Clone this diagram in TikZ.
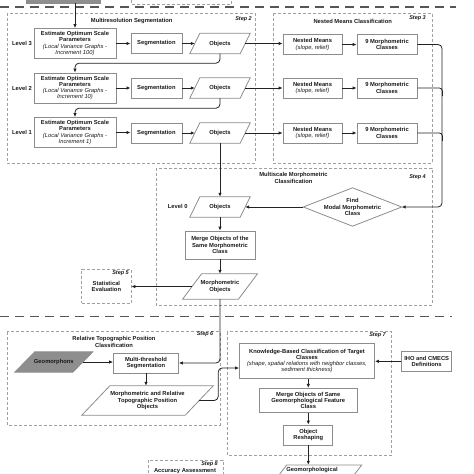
\documentclass[tikz,border=0pt]{standalone}
\usepackage{fontspec}
\setmainfont{Liberation Sans}
\usetikzlibrary{arrows.meta}
\pgfdeclarelayer{bg}
\pgfsetlayers{bg,main}
\definecolor{boxgray}{HTML}{8C8C8C}
\definecolor{dashgray}{HTML}{A0A0A0}
\definecolor{sepgray}{HTML}{555555}
\definecolor{arrowc}{HTML}{222222}
\definecolor{fillgray}{HTML}{8E8E8E}
\definecolor{txt}{HTML}{1A1A1A}
\newcommand\itx[1]{{\mdseries\itshape #1}}
\newcommand\paradraw[2]{\draw[box] ([xshift=#2pt]#1.north west) -- ([xshift=#2pt]#1.north east) -- ([xshift=-#2pt]#1.south east) -- ([xshift=-#2pt]#1.south west) -- cycle;}
\begin{document}
\begin{tikzpicture}[x=1pt,y=-1pt,
  every node/.style={font=\fontsize{5.8}{6.3}\selectfont\bfseries, text=txt, align=center, inner sep=0pt},
  box/.style={draw=boxgray, line width=.8pt},
  area/.style={draw=dashgray, line width=.7pt, dash pattern=on 3pt off 2pt},
  sepline/.style={draw=sepgray, line width=1.3pt, dash pattern=on 8.5pt off 6.5pt},
  conn/.style={draw=arrowc, line width=.8pt, -{Latex[length=4pt,width=3.5pt]}},
  plain/.style={draw=arrowc, line width=.8pt},
  steplbl/.style={font=\fontsize{5.5}{6}\selectfont\bfseries\itshape, anchor=east},
  estbox/.style={box, minimum width=82pt, minimum height=30pt},
  segbox/.style={box, minimum width=51pt, minimum height=20pt},
  nmbox/.style={box, minimum width=59pt, minimum height=20pt},
  cmbox/.style={box, minimum width=60pt, minimum height=20pt},
  objpara/.style={minimum width=50pt, minimum height=20pt},
]
\useasboundingbox (0,0) rectangle (474,474);
\clip (0,0) rectangle (474,474);

% top remnants
\node[draw=boxgray, fill=fillgray, line width=.8pt, minimum width=74pt, minimum height=16pt] (topbox) at (63,-5) {};
\draw[area] (131.7,-20) rectangle (231.7,4.5);
\draw[sepline] (0,7) -- (456,7);
\draw[sepline] (0,316.7) -- (452,316.7);

% step areas
\draw[area] (7,13) rectangle (255,163);
\draw[area] (273,13) rectangle (432,163);
\draw[area] (156,168) rectangle (432,305);
\draw[area] (7.3,331.7) rectangle (220,425);
\draw[area] (227.3,331.7) rectangle (391.7,455);
\draw[area] (148.3,460) rectangle (223.3,495);

% titles
\node (t2) at (131.7,21) {Multiresolution Segmentation};
\node[steplbl] (s2) at (252,19) {Step 2};
\node (t3) at (352.7,21) {Nested Means Classification};
\node[steplbl] (s3) at (426,18.5) {Step 3};
\node (t4) at (293.5,178) {Multiscale Morphometric\\Classification};
\node[steplbl] (s4) at (426,176.7) {Step 4};
\node[steplbl] (s5) at (129,273.3) {Step 5};
\node (t6) at (114,342) {Relative Topographic Position\\Classification};
\node[steplbl] (s6) at (213.5,334) {Step 6};
\node[steplbl] (s7) at (386,335) {Step 7};
\node[steplbl] (s8) at (218,464.3) {Step 8};
\node (t8) at (185,471) {Accuracy Assessment};

% level labels
\node (l3) at (22,43.5) {Level 3};
\node (l2) at (22,88) {Level 2};
\node (l1) at (22,132.5) {Level 1};
\node (l0) at (177.7,206.7) {Level 0};

% row 3
\node[estbox] (est3) at (75,43.5) {Estimate Optimum Scale\\Parameters\\\itx{(Local Variance Graphs -}\\\itx{Increment 100)}};
\node[segbox] (seg3) at (156.4,43.5) {Segmentation};
\node[objpara] (obj3) at (220,43.5) {Objects};
\node[nmbox] (nm3) at (312.5,44.5) {Nested Means\\\itx{(slope, relief)}};
\node[cmbox] (cm3) at (387,44.5) {9 Morphometric\\Classes};
% row 2
\node[estbox] (est2) at (75,88) {Estimate Optimum Scale\\Parameters\\\itx{(Local Variance Graphs -}\\\itx{Increment 10)}};
\node[segbox] (seg2) at (156.4,88) {Segmentation};
\node[objpara] (obj2) at (220,88) {Objects};
\node[nmbox] (nm2) at (312.5,88) {Nested Means\\\itx{(slope, relief)}};
\node[cmbox] (cm2) at (387,88) {9 Morphometric\\Classes};
% row 1
\node[estbox] (est1) at (75,132.5) {Estimate Optimum Scale\\Parameters\\\itx{(Local Variance Graphs -}\\\itx{Increment 1)}};
\node[segbox] (seg1) at (156.4,133) {Segmentation};
\node[objpara] (obj1) at (220,133) {Objects};
\node[nmbox] (nm1) at (312.5,133) {Nested Means\\\itx{(slope, relief)}};
\node[cmbox] (cm1) at (387,133) {9 Morphometric\\Classes};
\paradraw{obj3}{5}
\paradraw{obj2}{5}
\paradraw{obj1}{5}

% step 4
\node[objpara] (obj0) at (220,207) {Objects};
\paradraw{obj0}{5}
\node[minimum width=98pt, minimum height=38pt] (modalcls) at (352.5,207) {Find\\Modal Morphometric\\Class};
\draw[box] (modalcls.north) -- (modalcls.east) -- (modalcls.south) -- (modalcls.west) -- cycle;
\node[box, minimum width=70pt, minimum height=28pt] (merge) at (220,245) {Merge Objects of the\\Same Morphometric\\Class};
\node[minimum width=55.5pt, minimum height=25pt] (mobj) at (220,286.5) {Morphometric\\Objects};
\paradraw{mobj}{9.5}

% step 5
\node[area, minimum width=49.3pt, minimum height=34.3pt] (stat) at (106.4,286.2) {Statistical\\Evaluation};

% step 6
\node[minimum width=57.7pt, minimum height=20pt] (geom) at (53.8,362) {Geomorphons};
\begin{pgfonlayer}{bg}
\draw[box, fill=fillgray] ([xshift=10pt]geom.north west) -- ([xshift=10pt]geom.north east) -- ([xshift=-10pt]geom.south east) -- ([xshift=-10pt]geom.south west) -- cycle;
\end{pgfonlayer}
\node[box, minimum width=65pt, minimum height=20pt] (mts) at (146,363) {Multi-threshold\\Segmentation};
\node[minimum width=103pt, minimum height=29pt] (mrtp) at (147.5,400.5) {Morphometric and Relative\\Topographic Position\\Objects};
\paradraw{mrtp}{14}

% step 7
\node[box, minimum width=135pt, minimum height=35pt] (kb) at (307,361) {Knowledge-Based Classification of Target\\Classes\\\itx{(shape, spatial relations with neighbor classes,}\\\itx{sediment thickness)}};
\node[box, minimum width=50pt, minimum height=19.5pt] (iho) at (426.7,361.3) {IHO and CMECS\\Definitions};
\node[box, minimum width=98.7pt, minimum height=24pt] (msg) at (308.3,400.3) {Merge Objects of Same\\Geomorphological Feature\\Class};
\node[box, minimum width=49pt, minimum height=20pt] (ors) at (308.3,435) {Object\\Reshaping};
\node[minimum height=10pt] (geo) at (312,470) {Geomorphological};
\draw[box] (286.7,465) -- (361.7,465) -- (338.7,495) -- (263.7,495) -- cycle;

% connectors
\draw[conn] (est3.north |- topbox.south) -- (est3.north);
\foreach \r in {1,2,3}{
  \draw[conn] (est\r.east) -- (est\r.east -| seg\r.west);
  \draw[conn] (seg\r.east) -- (obj\r.west);
  \draw[conn] (obj\r.east) -- (obj\r.east -| nm\r.west);
  \draw[conn] (nm\r.east) -- (cm\r.west);
}
\draw[conn, rounded corners=4pt] (obj3.south) -- ++(0,9.5) -| (est2.north);
\draw[conn, rounded corners=4pt] (obj2.south) -- ++(0,10) -| (est1.north);
\coordinate (jr) at (442,207);
\draw[conn, rounded corners=4pt] (cm3.east) -| (jr) -- (modalcls.east);
\draw[plain, rounded corners=3pt] (cm2.east) -| ++(25,8);
\draw[plain, rounded corners=3pt] (cm1.east) -| ++(25,8);
\draw[conn] (obj1.south) -- (obj0.north);
\draw[conn] (modalcls.west) -- (obj0.east);
\draw[conn] (obj0.south) -- (merge.north);
\draw[conn] (merge.south) -- (mobj.north);
\draw[conn] (mobj.west) -- (mobj.west -| stat.east);
\draw[conn, rounded corners=4pt] (mobj.south) |- (mts.east);
\draw[conn] (geom.east) -- (geom.east -| mts.west);
\draw[conn] (mts.south) -- (mts.south |- mrtp.north);
\draw[conn, rounded corners=4pt] (mrtp.east) -- ++(19,0) |- ([yshift=-7pt]kb.west);
\draw[conn] (iho.west) -- (iho.west -| kb.east);
\draw[conn] (kb.south -| msg.north) -- (msg.north);
\draw[conn] (msg.south) -- (ors.north);
\draw[conn] (ors.south) -- (ors.south |- geo.north);
\end{tikzpicture}
\end{document}
